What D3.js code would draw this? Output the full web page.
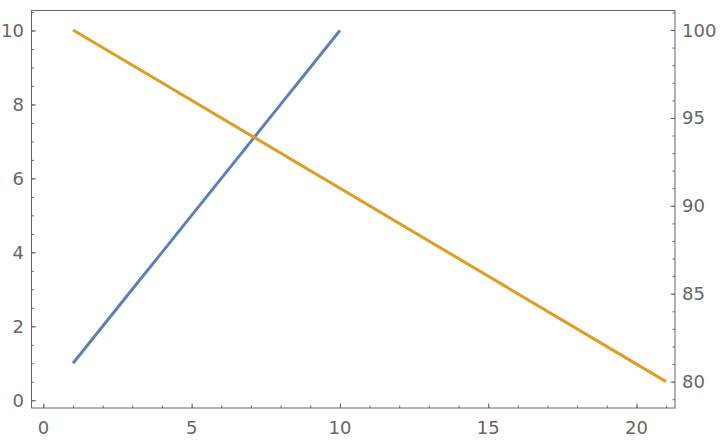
<!DOCTYPE html>
<html>
<head>
<meta charset="utf-8">
<script src="https://cdn.jsdelivr.net/npm/d3@7"></script>
<style>
  body { margin: 0; background: #fff; }
  text { font-family: "DejaVu Sans", sans-serif; font-size: 18px; fill: #666; }
</style>
</head>
<body>
<script>
    // Data
    let blueX = [1, 2, 3, 4, 5, 6, 7, 8, 9, 10];
    let blueY = [1, 2, 3, 4, 5, 6, 7, 8, 9, 10];
    let orangeX = [1, 21];
    let orangeY = [100, 80];
    let xTicks = [0, 5, 10, 15, 20];
    let leftTicks = [0, 2, 4, 6, 8, 10];
    let rightTicks = [80, 85, 90, 95, 100];

    let W = 720, H = 440;
    let plotLeft = 31.5, plotRight = 675, plotTop = 10.5, plotBottom = 408;

    let svg = d3.select("body").append("svg")
        .attr("width", W)
        .attr("height", H);

    let x = d3.scaleLinear().domain([-0.4, 21.3]).range([plotLeft, plotRight]);
    let yL = d3.scaleLinear().domain([-0.21, 10.54]).range([plotBottom, plotTop]);
    let yR = d3.scaleLinear().domain([78.5, 101.11]).range([plotBottom, plotTop]);

    // lines
    let blueLine = d3.line().x((d) => x(d[0])).y((d) => yL(d[1]));
    let orangeLine = d3.line().x((d) => x(d[0])).y((d) => yR(d[1]));

    svg.append("path")
        .datum(blueX.map((v, i) => [v, blueY[i]]))
        .attr("d", blueLine)
        .attr("fill", "none")
        .attr("stroke", "#5E81B5")
        .attr("stroke-width", 3);

    svg.append("path")
        .datum(orangeX.map((v, i) => [v, orangeY[i]]))
        .attr("d", orangeLine)
        .attr("fill", "none")
        .attr("stroke", "#E19C24")
        .attr("stroke-width", 3);

    // axes (ticks pointing inward)
    let frameColor = "#666";

    let xAxisMinor = d3.axisTop(x).tickValues(d3.range(0, 22, 1)).tickSize(2.5).tickFormat("");
    let xAxisMajor = d3.axisTop(x).tickValues(xTicks).tickSize(4.5).tickFormat("");
    let lMinor = d3.axisRight(yL).tickValues(d3.range(0, 10.51, 0.5)).tickSize(2.5).tickFormat("");
    let lMajor = d3.axisRight(yL).tickValues(leftTicks).tickSize(4.5).tickFormat("");
    let rMinor = d3.axisLeft(yR).tickValues(d3.range(79, 101.1, 1)).tickSize(2.5).tickFormat("");
    let rMajor = d3.axisLeft(yR).tickValues(rightTicks).tickSize(4.5).tickFormat("");

    [[xAxisMinor, `translate(0,${plotBottom})`], [xAxisMajor, `translate(0,${plotBottom})`],
     [lMinor, `translate(${plotLeft},0)`], [lMajor, `translate(${plotLeft},0)`],
     [rMinor, `translate(${plotRight},0)`], [rMajor, `translate(${plotRight},0)`]].forEach(([ax, tr]) => {
        let g = svg.append("g").attr("transform", tr).call(ax);
        g.select(".domain").remove();
        g.selectAll("line").attr("stroke", frameColor).attr("stroke-width", 1);
    });

    // frame
    svg.append("rect")
        .attr("x", plotLeft).attr("y", plotTop)
        .attr("width", plotRight - plotLeft).attr("height", plotBottom - plotTop)
        .attr("fill", "none")
        .attr("stroke", frameColor)
        .attr("stroke-width", 1);

    // labels
    svg.selectAll(".xl").data(xTicks).enter().append("text")
        .attr("class", "xl")
        .attr("x", (d) => x(d))
        .attr("y", 434)
        .attr("text-anchor", "middle")
        .text((d) => d);

    svg.selectAll(".ll").data(leftTicks).enter().append("text")
        .attr("class", "ll")
        .attr("x", 24)
        .attr("y", (d) => yL(d) + 6.5)
        .attr("text-anchor", "end")
        .text((d) => d);

    svg.selectAll(".rl").data(rightTicks).enter().append("text")
        .attr("class", "rl")
        .attr("x", 682)
        .attr("y", (d) => yR(d) + 6.5)
        .attr("text-anchor", "start")
        .text((d) => d);
</script>
</body>
</html>
